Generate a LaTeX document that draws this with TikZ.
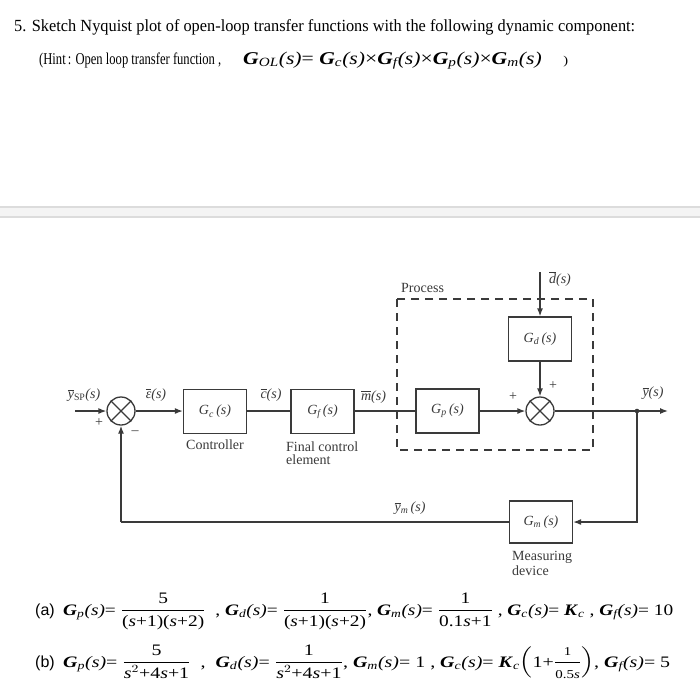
\documentclass[tikz,border=0pt]{standalone}
\usepackage{amsmath}
\usepackage{graphicx}
\usepackage{fontspec}
\setmainfont{Liberation Serif}
\newfontfamily\sansf{Liberation Sans}
\usetikzlibrary{arrows.meta}
\definecolor{lc}{HTML}{3A3A3A}
\definecolor{bandfill}{HTML}{F4F4F4}
\definecolor{bandline}{HTML}{DCDCDC}
\newcommand\Gbox[1]{\textit{G}$_{\textit{#1}}$\,\textit{(s)}}
\newcommand\olb[1]{$\overline{\mbox{\textit{#1}}}$}
\newcommand\bGG{\textbf{\textit{G}}}
\newcommand\bKK{\textbf{\textit{K}}}
\newcommand\sbi[1]{$_{\textit{#1}}$}
\newcommand\ssi{\textit{(s)}}
\newcommand\lblfont{\fontsize{14}{12}\selectfont}
\begin{document}
\begin{tikzpicture}[x=1pt,y=-1pt,
  blk/.style={draw=lc, line width=1.3pt, minimum width=63pt, minimum height=44pt, inner sep=0pt, font=\lblfont, text=lc},
  sumj/.style={circle, draw=lc, line width=1.3pt, minimum size=28pt, inner sep=0pt},
  sig/.style={draw=lc, line width=1.3pt},
  arr/.style={sig, -{Latex[length=8pt,width=6pt]}},
  lbl/.style={font=\lblfont, text=lc, inner sep=0pt},
  eqn/.style={font=\fontsize{16}{19}\selectfont, inner sep=0pt, anchor=base west}
]
\useasboundingbox (0,0) rectangle (700,694);
\fill[white] (0,0) rectangle (700,694);

% top text
\node[inner sep=0pt, anchor=base west] (t1) at (14,31.5) {\resizebox{621pt}{\height}{\fontsize{17}{20}\selectfont 5. Sketch Nyquist plot of open-loop transfer functions with the following dynamic component:}};
\node[inner sep=0pt, anchor=base west] (t2) at (39,64) {\resizebox{182pt}{\height}{\fontsize{16.5}{18}\selectfont (Hint\,: Open loop transfer function ,}};
\node[inner sep=0pt, anchor=base west] (t3) at (243,64) {\resizebox{325pt}{\height}{\fontsize{18}{20}\selectfont \bGG\sbi{OL}\ssi= \bGG\sbi{c}\ssi×\bGG\sbi{f}\ssi×\bGG\sbi{p}\ssi×\bGG\sbi{m}\ssi\quad{\fontsize{12}{14}\selectfont )}}};

% gray band
\fill[bandfill] (0,206) rectangle (700,218);
\draw[bandline, line width=1.6pt] (0,206.8) -- (700,206.8);
\draw[bandline, line width=1.6pt] (0,217) -- (700,217);

% diagram nodes
\node[sumj] (s1) at (121,411) {};
\node[blk] (gc) at (215,411.5) {\Gbox{c}};
\node[blk] (gf) at (322.5,411.5) {\Gbox{f}};
\node[blk] (gp) at (447.5,411) {\Gbox{p}};
\node[blk] (gd) at (540,339) {\Gbox{d}};
\node[sumj] (s2) at (540,411) {};
\node[blk, minimum height=42pt] (gm) at (541,522) {\Gbox{m}};
\draw[sig] (s1.45) -- (s1.225);
\draw[sig] (s1.135) -- (s1.315);
\draw[sig] (s2.45) -- (s2.225);
\draw[sig] (s2.135) -- (s2.315);

\coordinate (in) at (75,411);
\coordinate (dtop) at (540,272);
\coordinate (out) at (668,411);
\coordinate (jn) at (637,411);
\coordinate (fbr) at (637,522);
\coordinate (fbl) at (121,522);

\draw[lc, line width=1.1pt, dash pattern=on 8pt off 6pt] (397,299) rectangle (593,450);

\draw[arr] (in) -- (s1.west);
\draw[arr] (s1.east) -- (gc.west |- s1.east);
\draw[sig] (gc.east |- s1.east) -- (gf.west |- s1.east);
\draw[sig] (gf.east |- s1.east) -- (gp.west);
\draw[arr] (gp.east) -- (s2.west);
\draw[arr] (dtop) -- (gd.north);
\draw[arr] (gd.south) -- (s2.north);
\draw[arr] (s2.east) -- (out);
\fill[lc] (jn) circle (2.3pt);
\draw[arr] (jn) -- (fbr) -- (gm.east);
\draw[sig] (gm.west) -- (fbl);
\draw[arr] (fbl) -- (s1.south);

% labels
\node[lbl, anchor=base west] (lproc) at (401,292) {Process};
\node[lbl] (ld) at (560,279) {\olb{d}\ssi};
\node[lbl] (lysp) at (84,395) {\olb{y}$_{\text{\textup{SP}}}$\ssi};
\node[lbl] (le) at (156,395) {\olb{ε}\ssi};
\node[lbl] (lc) at (271,395) {\olb{c}\ssi};
\node[lbl] (lm) at (373.5,397) {\olb{m}\ssi};
\node[lbl] (ly) at (653,393) {\olb{y}\ssi};
\node[lbl] (lym) at (410,508) {\olb{y}$_{\textit{m}}$\,\ssi};
\node[lbl] (p1) at (99,423) {+};
\node[lbl] (m1) at (135,433) {\textendash};
\node[lbl] (p2) at (553,386) {+};
\node[lbl] (p3) at (513,397) {+};
\node[lbl, anchor=base] (lctrl) at (215,449.5) {Controller};
\node[lbl, anchor=base west, align=left] (lfc) at (286,464) {Final control\\[1pt]element};
\node[lbl, anchor=base west, align=left] (lmd) at (512,575) {Measuring\\[1pt]device};

% equations
\node[eqn] (ea) at (35,615) {\sansf (a)};
\node[eqn] (eaa) at (63,615) {\resizebox{610pt}{\height}{\bGG\sbi{p}\ssi= $\dfrac{\text{5}}{\text{(\textit{s}+1)(\textit{s}+2)}}$\ \ , \bGG\sbi{d}\ssi= $\dfrac{\text{1}}{\text{(\textit{s}+1)(\textit{s}+2)}}$, \bGG\sbi{m}\ssi= $\dfrac{\text{1}}{\text{0.1\textit{s}+1}}$ , \bGG\sbi{c}\ssi= \bKK\sbi{c} , \bGG\sbi{f}\ssi= 10}};
\node[eqn] (eb) at (35,667) {\sansf (b)};
\node[eqn] (ebb) at (63,667) {\resizebox{607pt}{\height}{\bGG\sbi{p}\ssi= $\dfrac{\text{5}}{\text{\textit{s}$^{2}$+4\textit{s}+1}}$\ \ ,\ \ \bGG\sbi{d}\ssi= $\dfrac{\text{1}}{\text{\textit{s}$^{2}$+4\textit{s}+1}}$, \bGG\sbi{m}\ssi= 1 , \bGG\sbi{c}\ssi= \bKK\sbi{c}$\left(\text{1+}\dfrac{\text{\fontsize{12}{14}\selectfont 1}}{\text{\fontsize{12}{14}\selectfont 0.5\textit{s}}}\right)$, \bGG\sbi{f}\ssi= 5}};
\end{tikzpicture}
\end{document}
